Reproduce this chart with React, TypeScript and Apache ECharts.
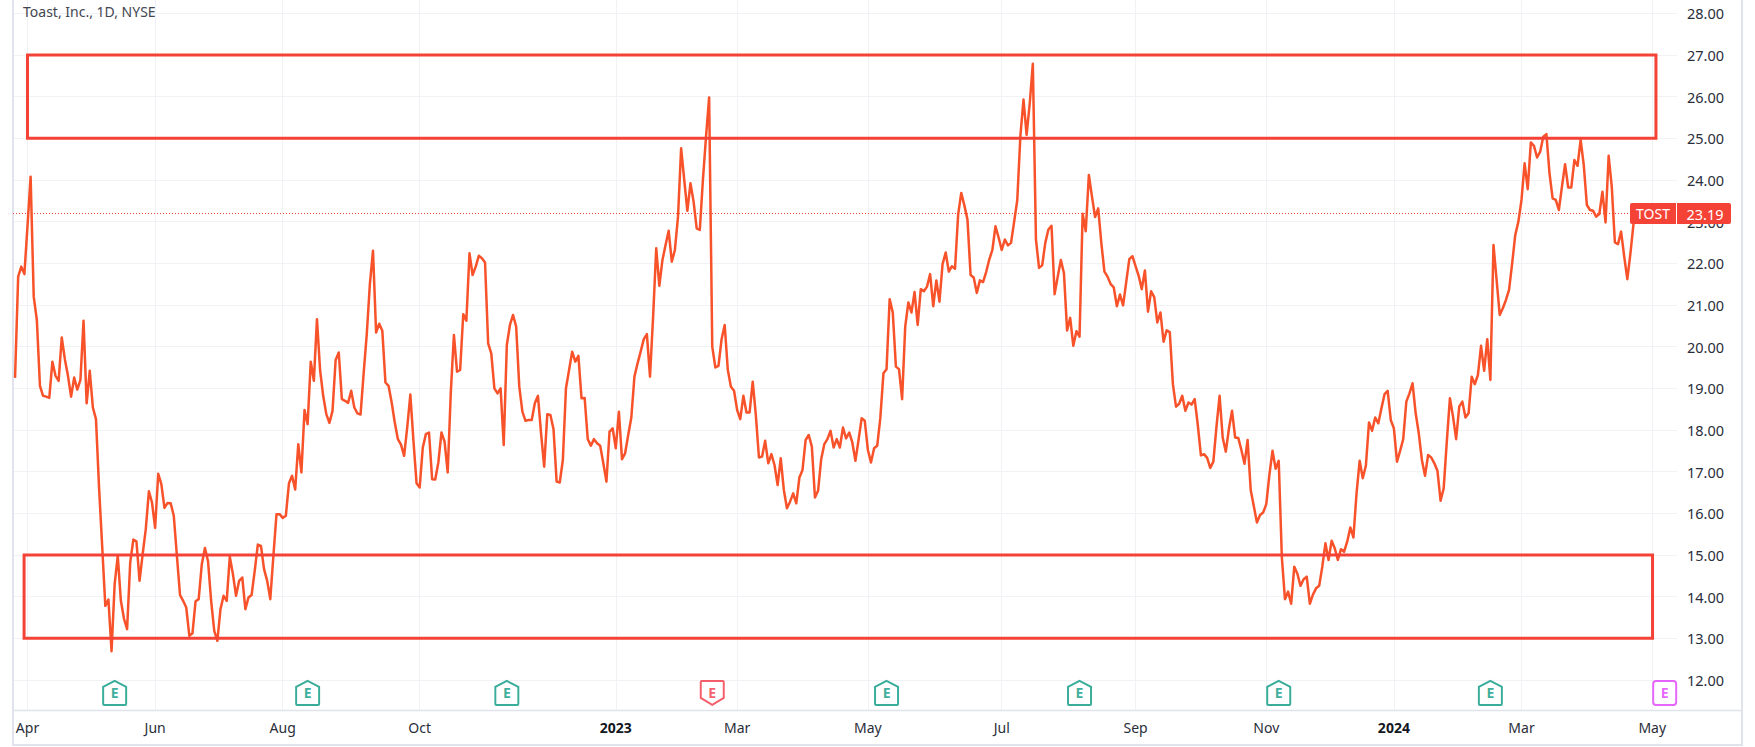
import React, { useEffect, useRef } from "react";
import * as echarts from "echarts";

const title = "Toast, Inc., 1D, NYSE";
const ticker = "TOST";
const lastPrice = 23.19;

// Daily closes, one per trading day
const pricesA = [
  19.25, 21.68, 21.92, 21.74, 22.9, 24.08, 21.2, 20.64, 19.06, 18.82, 18.8, 18.77, 19.64, 19.3, 19.18, 20.22, 19.7, 19.3, 18.8, 19.26,
  18.97, 19.2, 20.62, 18.64, 19.42, 18.54, 18.26, 16.6, 15.2, 13.78, 13.93, 12.69, 14.3, 14.98, 13.9, 13.47, 13.22, 14.82, 15.37, 15.33,
  14.38, 15.02, 15.62, 16.53, 16.26, 15.65, 16.95, 16.7, 16.13, 16.25, 16.24, 15.94, 14.98, 14.04, 13.9, 13.74, 13.06, 13.12, 13.89, 13.94,
  14.78, 15.17, 14.85, 13.9, 13.18, 12.94, 13.7, 14.02, 13.9, 14.96, 14.54, 14.02, 14.38, 14.46, 13.7, 13.98, 14.04, 14.62, 15.25, 15.22,
  14.66, 14.38, 13.94, 14.98, 15.98, 15.98, 15.89, 15.94, 16.72, 16.9, 16.57, 17.66, 16.98, 18.48, 18.14, 19.64, 19.18, 20.66, 19.44, 18.82,
  18.38, 18.17, 18.46, 19.68, 19.86, 18.74, 18.7, 18.65, 18.94, 18.54, 18.4, 18.37, 19.36, 20.3, 21.5, 22.3, 20.34, 20.55, 20.38, 19.14,
  19.06, 18.66, 18.18, 17.78, 17.65, 17.38, 18.06, 18.85, 17.74, 16.72, 16.62, 17.58, 17.9, 17.94, 16.82, 16.81, 17.22,
];
const pricesB = [
  17.94, 17.72, 16.98, 18.9, 20.28, 19.4, 19.44, 20.78, 20.62, 22.24, 21.72, 21.92, 22.18, 22.12, 22.02, 20.08, 19.84, 19.0, 18.88, 19.0,
  17.64, 20.04, 20.52, 20.76, 20.48, 19.04, 18.44, 18.22, 18.24, 18.24, 18.64, 18.82, 17.92, 17.12, 18.38, 18.36, 18.02, 16.76, 16.74, 17.28,
  19.0, 19.44, 19.88, 19.64, 19.78, 18.76, 18.77, 17.78, 17.62, 17.78, 17.68, 17.62, 17.2, 16.76, 17.96, 18.04, 17.56, 18.44, 17.3, 17.44,
  17.88, 18.3, 19.28, 19.6, 19.88, 20.18, 20.3, 19.28, 20.72, 22.36, 21.46, 22.08, 22.44, 22.78, 22.04, 22.32, 23.12, 24.76, 24.0, 23.26,
  23.92, 23.48, 22.84, 22.8, 24.0, 25.04, 25.98, 20.0, 19.5, 19.54, 20.18, 20.52, 19.44, 19.04, 18.94, 18.48, 18.26, 18.82, 18.42, 18.42,
  19.16, 18.36, 17.34, 17.36, 17.74, 17.2, 17.42, 17.16, 16.68, 17.32, 16.56, 16.12, 16.28, 16.48, 16.24, 16.86, 17.04, 17.76, 17.88, 17.6,
  16.38, 16.54, 17.3, 17.66, 17.78, 17.98, 17.58, 17.78, 17.58, 18.06, 17.8, 17.94, 17.7, 17.26, 17.76, 18.28, 18.22, 17.52, 17.22, 17.56,
  17.62,
];
const pricesC = [
  18.29, 19.36, 19.46, 21.14, 20.82, 19.52, 19.46, 18.74, 20.48, 21.06, 20.82, 21.31, 20.52, 21.38, 21.33, 21.44, 21.74, 20.97, 21.59, 21.08,
  21.98, 22.26, 21.8, 21.93, 21.87, 23.17, 23.69, 23.39, 23.05, 21.72, 21.66, 21.29, 21.59, 21.55, 21.79, 22.09, 22.32, 22.89, 22.62, 22.32,
  22.57, 22.43, 22.49, 23.0, 23.52, 25.06, 25.93, 25.08, 25.83, 26.79, 22.57, 21.89, 21.95, 22.49, 22.81, 22.9, 21.26, 21.68, 22.08, 21.76,
  20.39, 20.69, 20.02, 20.37, 20.24, 23.19, 22.77, 24.12, 23.6, 23.11, 23.32, 22.49, 21.8, 21.68, 21.5, 21.42, 20.97, 21.25, 20.99, 21.55,
  22.1, 22.17, 21.93, 21.7, 21.38, 21.83, 20.84, 21.33, 21.19, 20.58, 20.82, 20.12, 20.39, 20.35, 19.1, 18.56, 18.63, 18.82, 18.46, 18.66,
  18.61, 18.74, 18.12, 17.39, 17.42, 17.33, 17.09, 17.24, 18.08, 18.82, 17.82, 17.48, 18.03, 18.46, 17.82, 17.81, 17.52, 17.19, 17.76, 16.56,
  16.17, 15.78, 15.96, 16.02, 16.22, 16.92, 17.5, 17.07, 17.26, 14.95, 13.94, 14.12, 13.83, 14.72, 14.55, 14.26, 14.42, 14.48, 13.83, 14.05,
  14.2, 14.26,
];
const pricesD = [
  14.72, 15.28, 14.88, 15.34, 15.16, 14.88, 15.14, 15.08, 15.32, 15.66, 15.42, 16.48, 17.26, 16.84, 17.14, 18.18, 17.98, 18.3, 18.16, 18.52,
  18.86, 18.94, 18.24, 18.04, 17.24, 17.5, 17.78, 18.68, 18.88, 19.12, 18.4, 17.92, 17.28, 16.9, 17.4, 17.34, 17.2, 17.02, 16.3, 16.6,
  17.72, 18.76, 18.32, 17.78, 18.56, 18.68, 18.3, 18.4, 19.28, 19.1, 19.32, 20.02, 19.42, 20.18, 19.2, 22.44, 21.6, 20.76, 20.92, 21.12,
  21.36, 22.0, 22.68, 23.0, 23.52, 24.4, 23.78, 24.9, 24.82, 24.54, 24.68, 25.04, 25.1, 24.16, 23.56, 23.52, 23.28, 23.84, 24.38, 23.82,
  23.82, 24.48, 24.34, 24.96, 24.36, 23.4, 23.28, 23.26, 23.12, 23.18, 23.72, 22.98, 24.58, 23.84, 22.5, 22.46, 22.76, 22.16, 21.62, 22.24,
  22.96, 23.19,
];
const prices = [...pricesA, ...pricesB, ...pricesC, ...pricesD];

// Month labels and the trading-day index each one falls on
const monthLabels = ["Apr", "Jun", "Aug", "Oct", "2023", "Mar", "May", "Jul", "Sep", "Nov", "2024", "Mar", "May"];
const monthIndex = [4, 45, 86, 130, 193, 232, 274, 317, 360, 402, 443, 484, 526];
const yearLabels = ["2023", "2024"];

const priceTicks = [12, 13, 14, 15, 16, 17, 18, 19, 20, 21, 22, 23, 24, 25, 26, 27, 28];

// Earnings markers, by trading-day index
const earningsReported = [32, 94, 158, 280, 342, 406, 474];
const earningsMissed = [224];
const earningsNext = [530];
const earningsRow = 11.69;

// Zones: [first index, last index, low price, high price]
const upperZone = [4, 527.2, 25, 27];
const lowerZone = [2.9, 526.1, 13, 15];

const UP = "path://M12 0 L23 6 L23 23 Q23 24 22 24 L2 24 Q1 24 1 23 L1 6 Z";
const DOWN = "path://M2 0 L22 0 Q23 0 23 1 L23 17 L12 24 L1 17 L1 1 Q1 0 2 0 Z";
const SQUARE = "path://M3 0 L21 0 Q24 0 24 3 L24 21 Q24 24 21 24 L3 24 Q0 24 0 21 L0 3 Q0 0 3 0 Z";

const FONT = "'Noto Sans', sans-serif";
const ZONE = "#f44336";
const GRID = "#f1f2f5";

function earningsSeries(idx: number[], symbol: string, color: string) {
  return {
    type: "scatter",
    silent: true,
    z: 6,
    symbol,
    symbolSize: [23, 24],
    data: idx.map((i) => [i, earningsRow]),
    itemStyle: { color: "#ffffff", borderColor: color, borderWidth: 2 },
    label: {
      show: true,
      position: "inside",
      formatter: "E",
      color,
      fontFamily: FONT,
      fontSize: 14,
      fontWeight: 700,
    },
  };
}

export default function App() {
  const ref = useRef<HTMLDivElement>(null);
  useEffect(() => {
    document.body.style.margin = "0";
    document.body.style.background = "#ffffff";
    const chart = echarts.init(ref.current!, null, { renderer: "svg" });
    chart.setOption({
      animation: false,
      backgroundColor: "#ffffff",
      title: {
        text: title,
        left: 23,
        top: 4,
        padding: 0,
        textStyle: { fontFamily: FONT, fontSize: 14, fontWeight: 400, color: "#434651" },
      },
      grid: { left: 13, right: 78, top: 0, height: 710 },
      xAxis: {
        type: "value",
        min: -0.66,
        max: 533.96,
        axisLine: { show: false },
        axisTick: { show: false, customValues: monthIndex },
        splitLine: { show: true, lineStyle: { color: GRID, width: 1 } },
        axisLabel: {
          customValues: monthIndex,
          margin: 10,
          color: "#2a2e39",
          fontFamily: FONT,
          fontSize: 14,
          formatter: (v: number) => {
            const s = monthLabels[monthIndex.indexOf(v)] ?? "";
            return yearLabels.includes(s) ? `{b|${s}}` : s;
          },
          rich: { b: { fontWeight: 700, color: "#131722", fontFamily: FONT, fontSize: 14 } },
        },
      },
      yAxis: {
        type: "value",
        position: "right",
        min: 11.28,
        max: 28.319,
        axisLine: { show: false },
        axisTick: { show: false, customValues: priceTicks },
        splitLine: { show: true, lineStyle: { color: GRID, width: 1 } },
        axisLabel: {
          customValues: priceTicks,
          margin: 10,
          color: "#2a2e39",
          fontFamily: FONT,
          fontSize: 14.5,
          formatter: (v: number) => v.toFixed(2),
        },
      },
      series: [
        {
          type: "line",
          silent: true,
          showSymbol: false,
          z: 3,
          data: prices.map((v, i) => [i, v]),
          lineStyle: { color: "#f7522a", width: 2.5, join: "round" },
          markLine: {
            silent: true,
            symbol: "none",
            z: 2,
            label: { show: false },
            lineStyle: { color: ZONE, width: 1, type: [1, 2], opacity: 1 },
            data: [{ yAxis: lastPrice }],
          },
          markArea: {
            silent: true,
            z: 5,
            itemStyle: { color: "rgba(0,0,0,0)", borderColor: ZONE, borderWidth: 3 },
            data: [
              [{ coord: [upperZone[0], upperZone[2]] }, { coord: [upperZone[1], upperZone[3]] }],
              [{ coord: [lowerZone[0], lowerZone[2]] }, { coord: [lowerZone[1], lowerZone[3]] }],
            ],
          },
        },
        earningsSeries(earningsReported, UP, "#089981"),
        earningsSeries(earningsMissed, DOWN, "#f23645"),
        earningsSeries(earningsNext, SQUARE, "#e040fb"),
      ],
      graphic: [
        { type: "line", z: 1, shape: { x1: 13, y1: 710.5, x2: 1742, y2: 710.5 }, style: { stroke: "#e0e3eb", lineWidth: 1.5 } },
        { type: "line", z: 1, shape: { x1: 13, y1: 0, x2: 13, y2: 745 }, style: { stroke: "#e0e3eb", lineWidth: 2 } },
        { type: "line", z: 1, shape: { x1: 1742, y1: 0, x2: 1742, y2: 745 }, style: { stroke: "#e0e3eb", lineWidth: 2 } },
        { type: "line", z: 1, shape: { x1: 12, y1: 745, x2: 1743, y2: 745 }, style: { stroke: "#e0e3eb", lineWidth: 2 } },
        { type: "rect", z: 20, shape: { x: 1630, y: 203, width: 46, height: 21, r: [2, 0, 0, 2] }, style: { fill: ZONE } },
        { type: "rect", z: 20, shape: { x: 1677, y: 203, width: 54, height: 21, r: [0, 2, 2, 0] }, style: { fill: ZONE } },
        {
          type: "text",
          z: 21,
          x: 1653,
          y: 213.5,
          style: { text: ticker, fill: "#ffffff", font: `14px ${FONT}`, textAlign: "center", textVerticalAlign: "middle" },
        },
        {
          type: "text",
          z: 21,
          x: 1705,
          y: 213.5,
          style: { text: lastPrice.toFixed(2), fill: "#ffffff", font: `14.5px ${FONT}`, textAlign: "center", textVerticalAlign: "middle" },
        },
      ],
    });
    return () => chart.dispose();
  }, []);
  return <div ref={ref} style={{ position: "fixed", left: 0, top: 0, width: 1755, height: 747 }} />;
}
